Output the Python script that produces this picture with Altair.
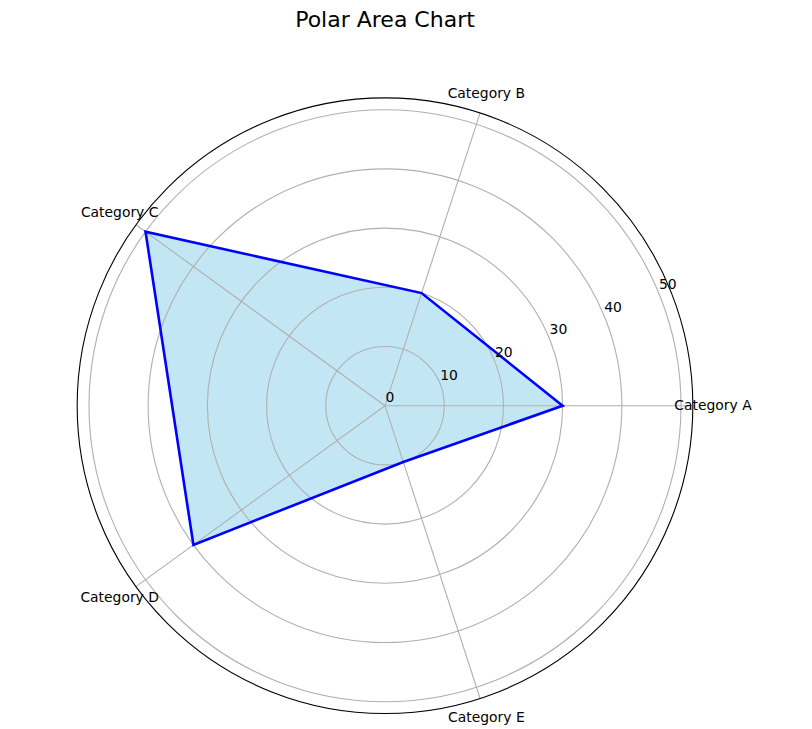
import math
import altair as alt
import pandas as pd

categories = ["Category A", "Category B", "Category C", "Category D", "Category E"]
values = [30, 20, 50, 40, 10]
grid_levels = [10, 20, 30, 40, 50]
tick_levels = [0, 10, 20, 30, 40, 50]
R_MAX = 52
LABEL_R = 55.4
N = len(categories)

# layout (pixels)
K = 5.92          # pixels per data unit
W, H = 754, 670
CX, CY = 377, 347.7
FONT = "DejaVu Sans"

xs = alt.Scale(domain=[-CX / K, (W - CX) / K], nice=False, zero=False)
ys = alt.Scale(domain=[-(H - CY) / K, CY / K], nice=False, zero=False)

cat_df = pd.DataFrame({"category": categories, "value": values})

base = alt.Chart(cat_df).transform_window(idx="row_number()").transform_calculate(
    ang=f"(datum.idx - 1) * 2 * PI / {N}",
    px="datum.value * cos(datum.ang)",
    py="datum.value * sin(datum.ang)",
    ox=f"{R_MAX} * cos(datum.ang)",
    oy=f"{R_MAX} * sin(datum.ang)",
    lx=f"{LABEL_R} * cos(datum.ang)",
    ly=f"{LABEL_R} * sin(datum.ang)",
    cx="0",
    cy="0",
)

fill = base.mark_line(
    interpolate="linear-closed", fill="skyblue", fillOpacity=0.5, strokeOpacity=0
).encode(
    x=alt.X("px:Q", scale=xs, axis=None),
    y=alt.Y("py:Q", scale=ys, axis=None),
    order="idx:Q",
)


def rings(levels, color):
    return alt.Chart(pd.DataFrame({"r": levels})).transform_calculate(
        cx="0", cy="0", rpx=f"datum.r * {K}"
    ).mark_arc(
        theta=0, theta2=2 * math.pi, filled=False, fillOpacity=0,
        stroke=color, strokeWidth=1.1
    ).encode(
        x=alt.X("cx:Q", scale=xs, axis=None),
        y=alt.Y("cy:Q", scale=ys, axis=None),
        radius=alt.Radius("rpx:Q", scale=None, stack=False),
    )


grid = rings(grid_levels, "#b0b0b0")
outer = rings([R_MAX], "black")

spokes = base.mark_rule(color="#b0b0b0", strokeWidth=1.1).encode(
    x=alt.X("cx:Q", scale=xs, axis=None),
    y=alt.Y("cy:Q", scale=ys, axis=None),
    x2="ox:Q",
    y2="oy:Q",
)

line = base.mark_line(interpolate="linear-closed", color="blue", strokeWidth=2.6).encode(
    x=alt.X("px:Q", scale=xs, axis=None),
    y=alt.Y("py:Q", scale=ys, axis=None),
    order="idx:Q",
)

ticks = alt.Chart(pd.DataFrame({"t": tick_levels})).transform_calculate(
    a="22.5 * PI / 180",
    tx="datum.t * cos(datum.a)",
    ty="datum.t * sin(datum.a)",
).mark_text(
    align="left", baseline="middle", dx=0.5, dy=-7.5, fontSize=13.9, font=FONT, color="black"
).encode(
    x=alt.X("tx:Q", scale=xs, axis=None),
    y=alt.Y("ty:Q", scale=ys, axis=None),
    text=alt.Text("t:Q", format="d"),
)

labels = base.mark_text(
    align="center", baseline="middle", fontSize=13.9, font=FONT, color="black"
).encode(
    x=alt.X("lx:Q", scale=xs, axis=None),
    y=alt.Y("ly:Q", scale=ys, axis=None),
    text="category:N",
)

chart = alt.layer(fill, grid, spokes, outer, line, ticks, labels).properties(
    width=W,
    height=H,
    title=alt.TitleParams(
        "Polar Area Chart", fontSize=22, font=FONT, fontWeight="normal",
        anchor="middle", frame="group", color="black", dy=-22
    ),
    autosize=alt.AutoSizeParams(type="none"),
    padding={"left": 0, "top": 50, "right": 40, "bottom": 0},
).configure_view(strokeWidth=0)

chart.save("out.html", embed_options={"renderer": "svg", "actions": False})
